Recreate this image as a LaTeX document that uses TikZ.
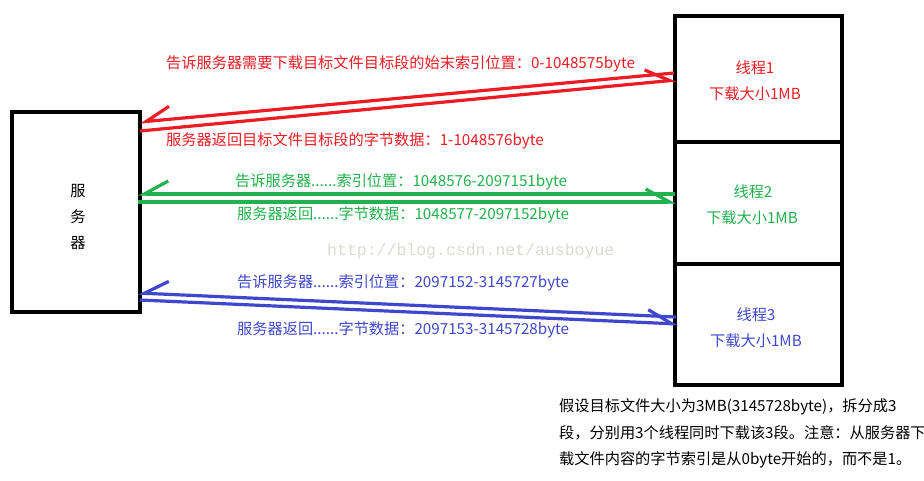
\documentclass[tikz,border=0pt]{standalone}
\usepackage{fontspec}
\setmainfont{Noto Sans CJK SC}
\newfontfamily\wmfont{Liberation Mono}
\usetikzlibrary{arrows.meta}
\definecolor{pred}{HTML}{ED1C24}
\definecolor{pgreen}{HTML}{22B14C}
\definecolor{pblue}{HTML}{3F48CC}
\definecolor{wmgray}{HTML}{DCDCD4}
\tikzset{
  box/.style={draw=black, line width=3.2pt, inner sep=0pt},
  lbl/.style={inner sep=0pt, font=\fontsize{15.2}{18}\selectfont},
  conn/.style={line width=3.2pt},
  tipl/.style={-{Straight Barb[length=24pt, width=26pt, harpoon, swap, line width=3.2pt, line cap=butt]}},
  tipr/.style={-{Straight Barb[length=24pt, width=26pt, harpoon, line width=3.2pt, line cap=butt]}},
}
\begin{document}
\begin{tikzpicture}[x=1pt, y=-1pt]
\useasboundingbox[fill=white] (0,0) rectangle (924,480);
% server
\node[box, minimum width=128pt, minimum height=200pt] (server) at (76,212) {};
\node[lbl, align=center] (stext) at (78,217) {服\\[8pt]务\\[8pt]器};
% threads
\node[box, minimum width=167pt, minimum height=126pt] (t1) at (758.5,79) {};
\node[box, minimum width=167pt, minimum height=122pt] (t2) at (758.5,203) {};
\node[box, minimum width=167pt, minimum height=121pt] (t3) at (758.5,324.5) {};
\node[lbl, text=pred] (t1a) at (755,68) {线程1};
\node[lbl, text=pred] (t1b) at (755,94) {下载大小1MB};
\node[lbl, text=pgreen] (t2a) at (753,192) {线程2};
\node[lbl, text=pgreen] (t2b) at (752,218) {下载大小1MB};
\node[lbl, text=pblue] (t3a) at (756,315) {线程3};
\node[lbl, text=pblue] (t3b) at (756,341) {下载大小1MB};
% connector ends
\coordinate (rs1) at (140,122); \coordinate (rt1) at (674,73);
\coordinate (rs2) at (140,131); \coordinate (rt2) at (676,80);
\coordinate (gs1) at (138,194); \coordinate (gt1) at (675,194);
\coordinate (gs2) at (138,202); \coordinate (gt2) at (676,202);
\coordinate (bs1) at (138,293); \coordinate (bt1) at (676,317);
\coordinate (bs2) at (140,300); \coordinate (bt2) at (678,324);
% connectors
\draw[conn, pred, tipl] (rt1) -- (rs1);
\draw[conn, pred, tipr] (rs2) -- (rt2);
\draw[conn, pgreen, tipl] (gt1) -- (gs1);
\draw[conn, pgreen, tipr] (gs2) -- (gt2);
\draw[conn, pblue, tipl] (bt1) -- (bs1);
\draw[conn, pblue, tipr] (bs2) -- (bt2);
% labels
\node[lbl, text=pred, anchor=west] (l1) at (166,64) {告诉服务器需要下载目标文件目标段的始末索引位置：0-1048575byte};
\node[lbl, text=pred, anchor=west] (l2) at (166,141) {服务器返回目标文件目标段的字节数据：1-1048576byte};
\node[lbl, text=pgreen, anchor=west] (l3) at (235,182) {告诉服务器......索引位置：1048576-2097151byte};
\node[lbl, text=pgreen, anchor=west] (l4) at (237,215) {服务器返回......字节数据：1048577-2097152byte};
\node[lbl, text=pblue, anchor=west] (l5) at (237,283) {告诉服务器......索引位置：2097152-3145727byte};
\node[lbl, text=pblue, anchor=west] (l6) at (237,330) {服务器返回......字节数据：2097153-3145728byte};
% watermark
\node[inner sep=0pt, anchor=west, text=wmgray, font=\wmfont\fontsize{16.5}{18}\selectfont] (wm) at (327,251) {http://blog.csdn.net/ausboyue};
% note
\node[lbl, anchor=west] (n1) at (559,407) {假设目标文件大小为3MB(3145728byte)，拆分成3};
\node[lbl, anchor=west] (n2) at (559,433) {段，分别用3个线程同时下载该3段。注意：从服务器下};
\node[lbl, anchor=west] (n3) at (559,460) {载文件内容的字节索引是从0byte开始的，而不是1。};
\end{tikzpicture}
\end{document}
